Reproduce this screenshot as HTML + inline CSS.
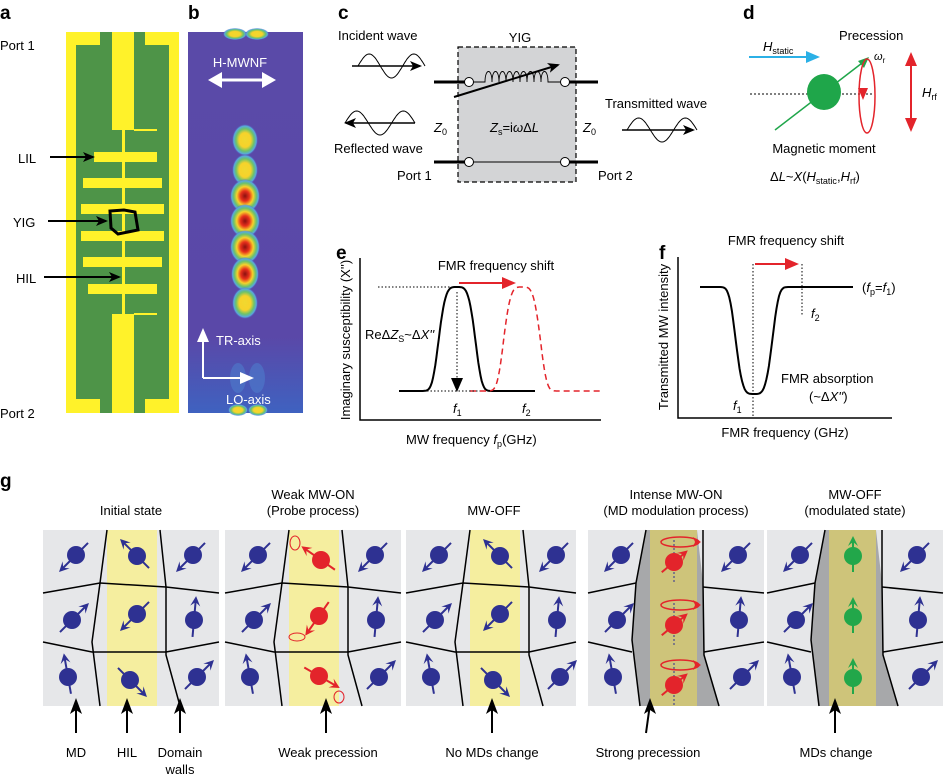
<!DOCTYPE html>
<html><head><meta charset="utf-8"><style>
body{margin:0;background:#fff}
svg{display:block;font-family:"Liberation Sans",Arial,sans-serif}
</style></head><body>
<svg id="s" width="946" height="777" viewBox="0 0 946 777" xmlns="http://www.w3.org/2000/svg">
<defs>
<marker id="ahb" markerWidth="12" markerHeight="10" refX="10" refY="5" orient="auto" markerUnits="userSpaceOnUse"><path d="M0,0L12,5L0,10L3,5z" fill="#000"/></marker>
<radialGradient id="blob"><stop offset="0" stop-color="#8b1010"/><stop offset="0.3" stop-color="#e8301c"/><stop offset="0.55" stop-color="#f7d22a"/><stop offset="0.75" stop-color="#6cc26a"/><stop offset="0.9" stop-color="#57a8e0"/><stop offset="1" stop-color="#5a55b5" stop-opacity="0"/></radialGradient>
<radialGradient id="blob2"><stop offset="0" stop-color="#f0d830"/><stop offset="0.45" stop-color="#f7d22a"/><stop offset="0.7" stop-color="#6cc26a"/><stop offset="0.88" stop-color="#57a8e0"/><stop offset="1" stop-color="#5a55b5" stop-opacity="0"/></radialGradient>
<linearGradient id="bg" x1="0" y1="0" x2="0" y2="1"><stop offset="0" stop-color="#5a4aa8"/><stop offset="0.8" stop-color="#5a48a8"/><stop offset="1" stop-color="#3f62c0"/></linearGradient>
</defs>
<g font-size="13">
<text x="0" y="19" font-weight="bold" font-size="19">a</text>
<text x="188" y="19" font-weight="bold" font-size="19">b</text>
<text x="338" y="19" font-weight="bold" font-size="19">c</text>
<text x="743" y="19" font-weight="bold" font-size="19">d</text>
<text x="336" y="259" font-weight="bold" font-size="19">e</text>
<text x="659" y="259" font-weight="bold" font-size="19">f</text>
<text x="0" y="487" font-weight="bold" font-size="19">g</text>

<!-- panel a -->
<rect x="66" y="32" width="113" height="381" fill="#fff22a"/>
<rect x="76" y="45" width="93" height="354" fill="#4e9448"/>
<rect x="100" y="32" width="45" height="13" fill="#4e9448"/>
<rect x="100" y="399" width="45" height="14" fill="#4e9448"/>
<rect x="112" y="32" width="22" height="98" fill="#fff22a"/>
<rect x="112" y="314" width="22" height="99" fill="#fff22a"/>
<rect x="122" y="130" width="3" height="184" fill="#fff22a"/>
<rect x="134" y="129" width="23" height="2" fill="#fff22a"/>
<rect x="134" y="313" width="23" height="2" fill="#fff22a"/>
<rect x="94" y="152" width="63" height="10" fill="#fff22a"/>
<rect x="83" y="178" width="79" height="10" fill="#fff22a"/>
<rect x="81" y="204" width="83" height="10" fill="#fff22a"/>
<rect x="81" y="231" width="83" height="10" fill="#fff22a"/>
<rect x="83" y="257" width="79" height="10" fill="#fff22a"/>
<rect x="88" y="284" width="69" height="10" fill="#fff22a"/>
<path d="M110,211L124,210L135,212L138,230L118,234L111,228z" fill="none" stroke="#000" stroke-width="3"/>
<text x="0" y="50">Port 1</text>
<text x="0" y="418">Port 2</text>
<text x="18" y="163">LIL</text>
<text x="13" y="227">YIG</text>
<text x="16" y="283">HIL</text>
<line x1="50" y1="157" x2="93" y2="157" stroke="#000" stroke-width="2" marker-end="url(#ahb)"/>
<line x1="48" y1="221" x2="106" y2="221" stroke="#000" stroke-width="2" marker-end="url(#ahb)"/>
<line x1="44" y1="277" x2="119" y2="277" stroke="#000" stroke-width="2" marker-end="url(#ahb)"/>

<!-- panel b -->
<rect x="188" y="32" width="115" height="381" fill="url(#bg)"/>
<ellipse cx="235" cy="34" rx="12" ry="6" fill="url(#blob2)"/>
<ellipse cx="257" cy="34" rx="12" ry="6" fill="url(#blob2)"/>
<ellipse cx="238" cy="410" rx="10" ry="6" fill="url(#blob2)"/>
<ellipse cx="258" cy="410" rx="10" ry="6" fill="url(#blob2)"/>
<ellipse cx="238" cy="378" rx="8" ry="15" fill="#4f7ccc" opacity="0.6"/>
<ellipse cx="257" cy="378" rx="8" ry="15" fill="#4f7ccc" opacity="0.6"/>
<ellipse cx="245" cy="140" rx="13" ry="16" fill="url(#blob2)"/>
<ellipse cx="245" cy="170" rx="13" ry="16" fill="url(#blob2)"/>
<ellipse cx="245" cy="196" rx="15" ry="17" fill="url(#blob)"/>
<ellipse cx="245" cy="221" rx="15" ry="17" fill="url(#blob)"/>
<ellipse cx="245" cy="247" rx="15" ry="17" fill="url(#blob)"/>
<ellipse cx="245" cy="274" rx="14" ry="17" fill="url(#blob)"/>
<ellipse cx="245" cy="303" rx="13" ry="16" fill="url(#blob2)"/>
<text x="240" y="67" fill="#fff" text-anchor="middle">H-MWNF</text>
<line x1="214" y1="80" x2="270" y2="80" stroke="#fff" stroke-width="3"/>
<path d="M208,80L222,72L222,88z M276,80L262,72L262,88z" fill="#fff"/>
<line x1="203" y1="378" x2="203" y2="336" stroke="#fff" stroke-width="2"/>
<path d="M203,328L197,342L209,342z" fill="#fff"/>
<line x1="203" y1="378" x2="246" y2="378" stroke="#fff" stroke-width="2"/>
<path d="M254,378L240,372L240,384z" fill="#fff"/>
<text x="216" y="345" fill="#fff">TR-axis</text>
<text x="226" y="404" fill="#fff">LO-axis</text>

<!-- panel c -->
<rect x="458" y="47" width="118" height="135" fill="#d3d4d6" stroke="#000" stroke-dasharray="5,3" stroke-width="1.2"/>
<line x1="434" y1="82" x2="469" y2="82" stroke="#000" stroke-width="3"/>
<line x1="565" y1="82" x2="598" y2="82" stroke="#000" stroke-width="3"/>
<line x1="434" y1="162" x2="469" y2="162" stroke="#000" stroke-width="3"/>
<line x1="565" y1="162" x2="598" y2="162" stroke="#000" stroke-width="3"/>
<line x1="469" y1="162" x2="565" y2="162" stroke="#000" stroke-width="1"/>
<path id="coil" d="" fill="none" stroke="#000" stroke-width="0.9"/>
<circle cx="469" cy="82" r="4.5" fill="#fff" stroke="#000"/>
<circle cx="565" cy="82" r="4.5" fill="#fff" stroke="#000"/>
<circle cx="469" cy="162" r="4.5" fill="#fff" stroke="#000"/>
<circle cx="565" cy="162" r="4.5" fill="#fff" stroke="#000"/>
<line x1="454" y1="97" x2="558" y2="65" stroke="#000" stroke-width="2" marker-end="url(#ahb)"/>
<text x="520" y="42" text-anchor="middle">YIG</text>
<text x="338" y="40">Incident wave</text>
<text x="334" y="153">Reflected wave</text>
<text x="605" y="108">Transmitted wave</text>
<text x="434" y="132" font-style="italic">Z<tspan font-size="9" dy="3" font-style="normal">0</tspan></text>
<text x="583" y="132" font-style="italic">Z<tspan font-size="9" dy="3" font-style="normal">0</tspan></text>
<text x="490" y="132"><tspan font-style="italic">Z</tspan><tspan font-size="9" dy="3">s</tspan><tspan dy="-3">=i</tspan><tspan font-style="italic">ω</tspan>Δ<tspan font-style="italic">L</tspan></text>
<text x="397" y="180">Port 1</text>
<text x="598" y="180">Port 2</text>
<path id="w1" fill="none" stroke="#000"/><path id="w2" fill="none" stroke="#000"/><path id="w3" fill="none" stroke="#000"/>
<line x1="352" y1="66" x2="420" y2="66" stroke="#000" stroke-width="1.5" marker-end="url(#ahb)"/>
<line x1="415" y1="123" x2="346" y2="123" stroke="#000" stroke-width="1.5" marker-end="url(#ahb)"/>
<line x1="622" y1="130" x2="693" y2="130" stroke="#000" stroke-width="1.5" marker-end="url(#ahb)"/>

<!-- panel d -->
<text x="763" y="51"><tspan font-style="italic">H</tspan><tspan font-size="9" dy="3">static</tspan></text>
<line x1="749" y1="57" x2="810" y2="57" stroke="#2bb0e6" stroke-width="2"/>
<path d="M820,57L806,51L806,63z" fill="#2bb0e6"/>
<text x="839" y="40">Precession</text>
<line x1="750" y1="94" x2="873" y2="94" stroke="#000" stroke-dasharray="2,2"/>
<ellipse cx="824" cy="92" rx="17" ry="18" fill="#1fa64a"/>
<line x1="775" y1="130" x2="866" y2="60" stroke="#1fa64a" stroke-width="1.5"/>
<path d="M869,57L858,61L864,68z" fill="#1fa64a"/>
<ellipse cx="867" cy="96" rx="8" ry="37" fill="none" stroke="#e3242b" stroke-width="1.5"/>
<path d="M863,100L858,88L868,88z" fill="#e3242b"/>
<text x="874" y="60" font-size="11" font-style="italic">ω<tspan font-size="8" dy="3" font-style="normal">r</tspan></text>
<line x1="911" y1="62" x2="911" y2="122" stroke="#e3242b" stroke-width="2"/>
<path d="M911,52L905,66L917,66z M911,132L905,118L917,118z" fill="#e3242b"/>
<text x="922" y="97"><tspan font-style="italic">H</tspan><tspan font-size="9" dy="3">rf</tspan></text>
<text x="824" y="153" text-anchor="middle">Magnetic moment</text>
<text x="770" y="181"><tspan>Δ</tspan><tspan font-style="italic">L</tspan>~<tspan font-style="italic">X</tspan>(<tspan font-style="italic">H</tspan><tspan font-size="9" dy="3">static</tspan><tspan dy="-3">,</tspan><tspan font-style="italic">H</tspan><tspan font-size="9" dy="3">rf</tspan><tspan dy="-3">)</tspan></text>

<!-- panel e -->
<polyline points="360,258 360,420 601,420" fill="none" stroke="#000" stroke-width="1.5"/>
<text transform="translate(350,340) rotate(-90)" text-anchor="middle">Imaginary susceptibility (X'')</text>
<path id="ep" fill="none" stroke="#000" stroke-width="2"/>
<path id="rp" fill="none" stroke="#e3242b" stroke-width="1.5" stroke-dasharray="6,4"/>
<line x1="378" y1="287" x2="452" y2="287" stroke="#000" stroke-dasharray="1.5,2"/>
<line x1="399" y1="391" x2="480" y2="391" stroke="#000" stroke-dasharray="1.5,2"/>
<line x1="457" y1="292" x2="457" y2="382" stroke="#000" stroke-dasharray="1.5,2"/>
<path d="M457,392L451,378L463,378z" fill="#000"/>
<line x1="459" y1="283" x2="508" y2="283" stroke="#e3242b" stroke-width="2"/>
<path d="M516,283L502,277L502,289z" fill="#e3242b"/>
<text x="496" y="270" text-anchor="middle">FMR frequency shift</text>
<text x="365" y="339">ReΔ<tspan font-style="italic">Z</tspan><tspan font-size="9" dy="3">S</tspan><tspan dy="-3">~Δ</tspan><tspan font-style="italic">X''</tspan></text>
<text x="453" y="413" font-style="italic">f<tspan font-size="9" dy="3" font-style="normal">1</tspan></text>
<text x="522" y="413" font-style="italic">f<tspan font-size="9" dy="3" font-style="normal">2</tspan></text>
<text x="406" y="444">MW frequency <tspan font-style="italic">f</tspan><tspan font-size="9" dy="3">p</tspan><tspan dy="-3">(GHz)</tspan></text>

<!-- panel f -->
<polyline points="678,257 678,418 892,418" fill="none" stroke="#000" stroke-width="1.5"/>
<text transform="translate(668,337) rotate(-90)" text-anchor="middle">Transmitted MW intensity</text>
<text x="786" y="245" text-anchor="middle">FMR frequency shift</text>
<line x1="755" y1="264" x2="790" y2="264" stroke="#e3242b" stroke-width="2"/>
<path d="M799,264L785,258L785,270z" fill="#e3242b"/>
<line x1="753" y1="264" x2="753" y2="418" stroke="#000" stroke-dasharray="1.5,2"/>
<line x1="802" y1="264" x2="802" y2="316" stroke="#000" stroke-dasharray="1.5,2"/>
<path id="fp" fill="none" stroke="#000" stroke-width="2"/>
<text x="862" y="292">(<tspan font-style="italic">f</tspan><tspan font-size="9" dy="3">p</tspan><tspan dy="-3">=</tspan><tspan font-style="italic">f</tspan><tspan font-size="9" dy="3">1</tspan><tspan dy="-3">)</tspan></text>
<text x="811" y="318" font-style="italic">f<tspan font-size="9" dy="3" font-style="normal">2</tspan></text>
<text x="733" y="410" font-style="italic">f<tspan font-size="9" dy="3" font-style="normal">1</tspan></text>
<text x="781" y="383">FMR absorption</text>
<text x="809" y="401">(~Δ<tspan font-style="italic">X''</tspan>)</text>
<text x="785" y="437" text-anchor="middle">FMR frequency (GHz)</text>

<!-- panel g titles -->
<text x="131" y="515" text-anchor="middle">Initial state</text>
<text x="313" y="499" text-anchor="middle">Weak MW-ON</text>
<text x="313" y="515" text-anchor="middle">(Probe process)</text>
<text x="494" y="515" text-anchor="middle">MW-OFF</text>
<text x="676" y="499" text-anchor="middle">Intense MW-ON</text>
<text x="676" y="515" text-anchor="middle">(MD modulation process)</text>
<text x="855" y="499" text-anchor="middle">MW-OFF</text>
<text x="855" y="515" text-anchor="middle">(modulated state)</text>
<g id="gp"></g>
<text x="76" y="757" text-anchor="middle">MD</text>
<text x="127" y="757" text-anchor="middle">HIL</text>
<text x="180" y="757" text-anchor="middle">Domain</text>
<text x="180" y="774" text-anchor="middle">walls</text>
<text x="328" y="757" text-anchor="middle">Weak precession</text>
<text x="492" y="757" text-anchor="middle">No MDs change</text>
<text x="648" y="757" text-anchor="middle">Strong precession</text>
<text x="836" y="757" text-anchor="middle">MDs change</text>
</g>
</svg>
<script>
var NS="http://www.w3.org/2000/svg";
function el(t,a,p){var e=document.createElementNS(NS,t);for(var k in a)e.setAttribute(k,a[k]);(p||document.getElementById('gp')).appendChild(e);return e;}
var d="M469,82L485,82";for(var i=0;i<9;i++){var x=485+i*7;d+=" C"+x+",68 "+(x+7)+",68 "+(x+7)+",82";}d+=" L565,82";
document.getElementById('coil').setAttribute('d',d);
function sine(x0,x1,y,a,n){var s="";for(var i=0;i<=60;i++){var x=x0+(x1-x0)*i/60;s+=(i?"L":"M")+x.toFixed(1)+","+(y-a*Math.sin(i/60*n*2*Math.PI)).toFixed(1);}return s;}
document.getElementById('w1').setAttribute('d',sine(358,425,66,12,1.5));
document.getElementById('w2').setAttribute('d',sine(345,415,123,12,1.5));
document.getElementById('w3').setAttribute('d',sine(627,697,130,12,1.5));
function peak(x0,x1,c,w,yb,h){var s="";for(var i=0;i<=120;i++){var x=x0+(x1-x0)*i/120;var y=yb-h*Math.exp(-Math.pow((x-c)/w,4));s+=(i?"L":"M")+x.toFixed(1)+","+y.toFixed(1);}return s;}
document.getElementById('ep').setAttribute('d',peak(399,535,457,20,391,104));
document.getElementById('rp').setAttribute('d',peak(470,601,522,20,391,104));
document.getElementById('fp').setAttribute('d',peak(700,853,754,20,287,-107));
var P=[43,225,406,588,767];
function md(x,y,ang,col,fw,bw){fw=fw||24;bw=bw||17;var r=ang*Math.PI/180,dx=Math.cos(r),dy=-Math.sin(r);
 el('line',{x1:x-dx*bw,y1:y-dy*bw,x2:x+dx*(fw-4),y2:y+dy*(fw-4),stroke:col,'stroke-width':2});
 var tx=x+dx*fw,ty=y+dy*fw,px=-dy,py=dx;
 el('path',{d:"M"+tx+","+ty+"L"+(tx-dx*10+px*5)+","+(ty-dy*10+py*5)+"L"+(tx-dx*6)+","+(ty-dy*6)+"L"+(tx-dx*10-px*5)+","+(ty-dy*10-py*5)+"z",fill:col});
 el('circle',{cx:x,cy:y,r:9,fill:col});}
var outer=[[33,555,225],[150,555,225],[29,620,45],[151,620,85],[25,677,100],[154,677,45]];
var center=[[94,556,135],[94,614,225],[87,680,315]];
P.forEach(function(x0,k){
 var W=(k==2?170:176);
 el('rect',{x:x0,y:530,width:W,height:176,fill:'#e6e7e9'});
 if(k<3){el('rect',{x:x0+64,y:530,width:50,height:176,fill:'#f5ee9f'});
  el('polyline',{points:(x0+64)+",530 "+(x0+57)+",583 "+(x0+49)+",642 "+(x0+57)+",706",fill:'none',stroke:'#000','stroke-width':1.5});
  el('polyline',{points:(x0+117)+",530 "+(x0+123)+",587 "+(x0+123)+",655 "+(x0+137)+",706",fill:'none',stroke:'#000','stroke-width':1.5});
 } else {
  el('polygon',{points:(x0+58)+",530 "+(x0+48)+",583 "+(x0+44)+",640 "+(x0+52)+",706 "+(x0+62)+",706 "+(x0+62)+",530",fill:'#a7a8aa'});
  el('polygon',{points:(x0+109)+",530 "+(x0+115)+",583 "+(x0+116)+",655 "+(x0+131)+",706 "+(x0+109)+",706",fill:'#a7a8aa'});
  el('rect',{x:x0+62,y:530,width:47,height:176,fill:'#cec47a'});
  el('polyline',{points:(x0+58)+",530 "+(x0+48)+",583 "+(x0+44)+",640 "+(x0+52)+",706",fill:'none',stroke:'#000','stroke-width':1.5});
  el('polyline',{points:(x0+115)+",530 "+(x0+115)+",583 "+(x0+116)+",655 "+(x0+131)+",706",fill:'none',stroke:'#000','stroke-width':1.5});
 }
 var L1=k<3?57:48,L2=k<3?49:44,R1=k<3?123:115,R2=k<3?123:116;
 el('polyline',{points:x0+",593 "+(x0+L1)+",583"+(k<3?" "+(x0+R1)+",587":""),fill:'none',stroke:'#000','stroke-width':1.5});
 el('polyline',{points:(x0+R1)+",587 "+(x0+W)+",593",fill:'none',stroke:'#000','stroke-width':1.5});
 el('polyline',{points:x0+",642 "+(x0+L2)+",652"+(k<3?" "+(x0+R2)+",652":""),fill:'none',stroke:'#000','stroke-width':1.5});
 el('polyline',{points:(x0+R2)+",652 "+(x0+W)+",642",fill:'none',stroke:'#000','stroke-width':1.5});
 outer.forEach(function(o){md(x0+o[0],o[1],o[2],'#2e3192');});
 if(k==0||k==2) center.forEach(function(c){md(x0+c[0],c[1],c[2],'#2e3192');});
 if(k==1){[[96,560,145],[94,616,235],[94,676,330]].forEach(function(c){md(x0+c[0],c[1],c[2],'#e3242b');});
   el('ellipse',{cx:x0+70,cy:543,rx:5,ry:7,fill:'none',stroke:'#e3242b'});
   el('ellipse',{cx:x0+72,cy:637,rx:8,ry:4,fill:'none',stroke:'#e3242b'});
   el('ellipse',{cx:x0+114,cy:697,rx:5,ry:6,fill:'none',stroke:'#e3242b'});}
 if(k==3){[562,625,685].forEach(function(y){el('line',{x1:x0+86,y1:y-22,x2:x0+86,y2:y+20,stroke:'#2e3192','stroke-dasharray':'2,2'});
   md(x0+86,y,40,'#e3242b',18,16);
   el('ellipse',{cx:x0+92,cy:y-20,rx:19,ry:5,fill:'none',stroke:'#e3242b','stroke-width':1.5});
   el('path',{d:"M"+(x0+113)+","+(y-20)+"l-8,-5l2,5l-2,5z",fill:'#e3242b'});});}
 if(k==4){[556,617,678].forEach(function(y){md(x0+86,y,90,'#22a74a',20,16);});}
});
[[76,733,76],[127,733,127],[180,733,180],[326,733,326],[492,733,492],[646,733,650],[835,733,835]].forEach(function(a){
 el('line',{x1:a[0],y1:a[1],x2:a[2],y2:704,stroke:'#000','stroke-width':2});
 el('path',{d:"M"+a[2]+",698L"+(a[2]-6)+",714L"+a[2]+",710L"+(a[2]+6)+",714z",fill:'#000'});});
</script>
</body></html>
